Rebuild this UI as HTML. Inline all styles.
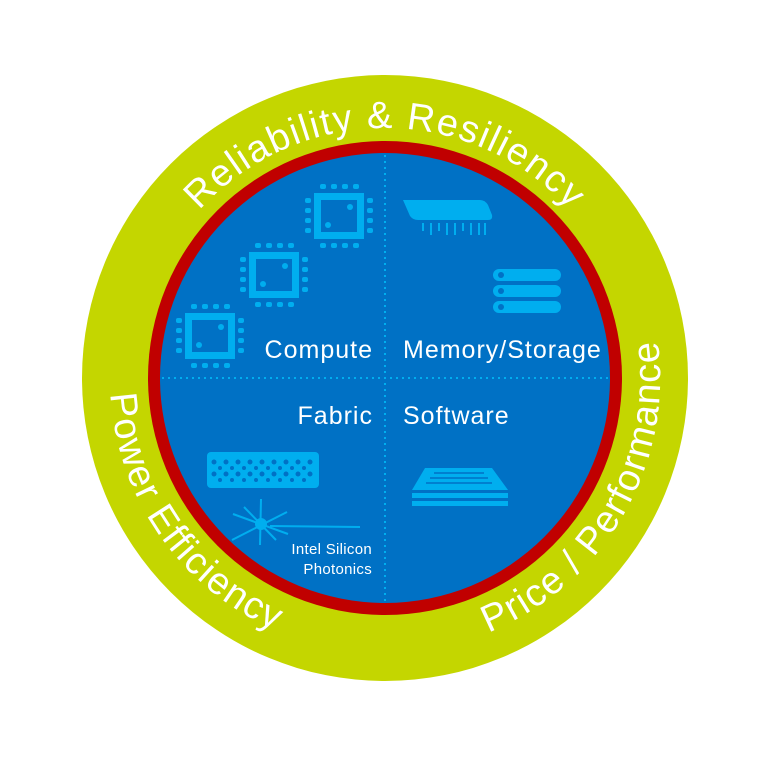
<!DOCTYPE html>
<html><head><meta charset="utf-8"><style>html,body{margin:0;padding:0;background:#fff;}svg{display:block}</style></head>
<body>
<svg width="768" height="775" viewBox="0 0 768 775" xmlns="http://www.w3.org/2000/svg" font-family="'Liberation Sans', sans-serif">
<defs>
<path id="ptop" d="M135,378 A250,250 0 0 1 635,378"/>
<path id="pright" d="M291,636 A275,275 0 0 0 562,167"/>
<path id="pleft" d="M126.6,283.9 A275,275 0 0 0 385,653" />
<g id="chip">
  <rect x="0" y="0" width="50" height="46" fill="#00aeef"/>
  <rect x="7" y="7" width="36" height="32" fill="#0071c5"/>
  <circle cx="36" cy="14" r="3" fill="#00aeef"/>
  <circle cx="14" cy="32" r="3" fill="#00aeef"/>
  <g fill="#00aeef">
    <rect x="6" y="-9" width="6" height="5" rx="2"/><rect x="17" y="-9" width="6" height="5" rx="2"/><rect x="28" y="-9" width="6" height="5" rx="2"/><rect x="39" y="-9" width="6" height="5" rx="2"/>
    <rect x="6" y="50" width="6" height="5" rx="2"/><rect x="17" y="50" width="6" height="5" rx="2"/><rect x="28" y="50" width="6" height="5" rx="2"/><rect x="39" y="50" width="6" height="5" rx="2"/>
    <rect x="-9" y="5" width="6" height="5" rx="2"/><rect x="-9" y="15" width="6" height="5" rx="2"/><rect x="-9" y="25" width="6" height="5" rx="2"/><rect x="-9" y="35" width="6" height="5" rx="2"/>
    <rect x="53" y="5" width="6" height="5" rx="2"/><rect x="53" y="15" width="6" height="5" rx="2"/><rect x="53" y="25" width="6" height="5" rx="2"/><rect x="53" y="35" width="6" height="5" rx="2"/>
  </g>
</g>
</defs>
<circle cx="385" cy="378" r="303" fill="#c4d600"/>
<circle cx="385" cy="378" r="237" fill="#c00000"/>
<circle cx="385" cy="378" r="225" fill="#0071c5"/>
<line x1="385" y1="155" x2="385" y2="602" stroke="#00aeef" stroke-width="2" stroke-dasharray="2,4"/>
<line x1="162" y1="378" x2="608" y2="378" stroke="#00aeef" stroke-width="2" stroke-dasharray="2,4"/>

<g fill="#fff" font-size="38" letter-spacing="1.5">
<text><textPath href="#ptop" startOffset="50%" text-anchor="middle">Reliability &amp; Resiliency</textPath></text>
<text><textPath href="#pright" startOffset="50%" text-anchor="middle">Price / Performance</textPath></text>
<text><textPath href="#pleft" startOffset="50%" text-anchor="middle">Power Efficiency</textPath></text>
</g>

<use href="#chip" x="314" y="193"/>
<use href="#chip" x="249" y="252"/>
<use href="#chip" x="185" y="313"/>

<g fill="#00aeef">
<path d="M403,200 L480,200 Q485,200 488,205 L492,215 Q493,220 488,220 L418,220 Q413,220 410,216 Z"/>
<rect x="422" y="223" width="2" height="8"/><rect x="430" y="223" width="2" height="12"/><rect x="438" y="223" width="2" height="8"/>
<rect x="446" y="223" width="2" height="12"/><rect x="454" y="223" width="2" height="12"/><rect x="462" y="223" width="2" height="8"/>
<rect x="470" y="223" width="2" height="12"/><rect x="478" y="223" width="2" height="12"/><rect x="484" y="223" width="2" height="12"/>
<rect x="493" y="269" width="68" height="12" rx="6"/>
<rect x="493" y="285" width="68" height="12" rx="6"/>
<rect x="493" y="301" width="68" height="12" rx="6"/>
</g>
<g fill="#0071c5"><circle cx="501" cy="275" r="3"/><circle cx="501" cy="291" r="3"/><circle cx="501" cy="307" r="3"/></g>

<g fill="#00aeef">
<rect x="207" y="452" width="112" height="36" rx="4"/>
</g>
<g fill="#0071c5">
<circle cx="214" cy="462" r="2.5"/><circle cx="226" cy="462" r="2.5"/><circle cx="238" cy="462" r="2.5"/><circle cx="250" cy="462" r="2.5"/><circle cx="262" cy="462" r="2.5"/><circle cx="274" cy="462" r="2.5"/><circle cx="286" cy="462" r="2.5"/><circle cx="298" cy="462" r="2.5"/><circle cx="310" cy="462" r="2.5"/>
<circle cx="214" cy="474" r="2.5"/><circle cx="226" cy="474" r="2.5"/><circle cx="238" cy="474" r="2.5"/><circle cx="250" cy="474" r="2.5"/><circle cx="262" cy="474" r="2.5"/><circle cx="274" cy="474" r="2.5"/><circle cx="286" cy="474" r="2.5"/><circle cx="298" cy="474" r="2.5"/><circle cx="310" cy="474" r="2.5"/>
<circle cx="220" cy="468" r="2" /><circle cx="232" cy="468" r="2"/><circle cx="244" cy="468" r="2"/><circle cx="256" cy="468" r="2"/><circle cx="268" cy="468" r="2"/><circle cx="280" cy="468" r="2"/><circle cx="292" cy="468" r="2"/><circle cx="304" cy="468" r="2"/>
<circle cx="220" cy="480" r="2"/><circle cx="232" cy="480" r="2"/><circle cx="244" cy="480" r="2"/><circle cx="256" cy="480" r="2"/><circle cx="268" cy="480" r="2"/><circle cx="280" cy="480" r="2"/><circle cx="292" cy="480" r="2"/><circle cx="304" cy="480" r="2"/>
</g>

<g stroke="#00aeef" stroke-width="2" fill="#00aeef">
<line x1="261" y1="499" x2="260" y2="545"/>
<line x1="233" y1="514" x2="288" y2="534"/>
<line x1="232" y1="540" x2="287" y2="512"/>
<line x1="244" y1="507" x2="276" y2="540"/>
<line x1="270" y1="526" x2="360" y2="527" stroke-width="2"/>
<circle cx="261" cy="524" r="6" stroke="none"/>
</g>

<g fill="#00aeef">
<path d="M425,468 L492,468 L508,490 L412,490 Z"/>
<rect x="412" y="493" width="96" height="5"/>
<rect x="412" y="501" width="96" height="5"/>
</g>
<g stroke="#0071c5" stroke-width="1.5">
<line x1="434" y1="473" x2="484" y2="473"/>
<line x1="430" y1="478" x2="488" y2="478"/>
<line x1="426" y1="483" x2="492" y2="483"/>
</g>

<g fill="#fff" font-size="25" letter-spacing="1">
<text x="373" y="358" text-anchor="end">Compute</text>
<text x="403" y="358">Memory/Storage</text>
<text x="373" y="424" text-anchor="end">Fabric</text>
<text x="403" y="424">Software</text>
</g>
<g fill="#fff" font-size="15" letter-spacing="0.3">
<text x="372" y="554" text-anchor="end">Intel Silicon</text>
<text x="372" y="574" text-anchor="end">Photonics</text>
</g>
</svg>
</body></html>
